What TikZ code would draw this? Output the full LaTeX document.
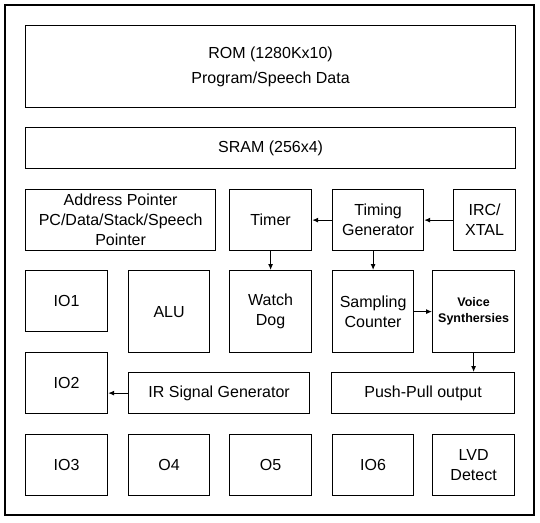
\documentclass[tikz,border=0pt]{standalone}
\usepackage{fontspec}
\setmainfont{Liberation Sans}
\usetikzlibrary{arrows.meta,positioning}
\tikzset{
    %Define standard arrow tip
    >={Latex[length=6pt,width=5pt]},
    %Define style for blocks
    blk/.style={
           rectangle,
           draw=black, line width=1.2pt,
           anchor=north west,
           minimum width=82pt,
           minimum height=61pt,
           inner sep=1pt,
           font=\fontsize{16}{20}\selectfont,
           align=center},
    bold/.style={
           font=\fontsize{12.5}{16}\selectfont\bfseries},
    % Define arrow style
    pil/.style={
           ->,
           line width=1pt}
}

\begin{document}
\begin{tikzpicture}[x=1pt,y=-1pt]
\useasboundingbox (0,0) rectangle (540,522);
\draw[line width=1.2pt] (5,5) rectangle (534,515);
% memories
\node[blk, minimum width=490pt, minimum height=82pt] (rom) at (25,25) {ROM (1280Kx10)\\[5pt]Program/Speech Data};
\node[blk, minimum width=490pt, minimum height=41pt] (sram) at (25,127) {SRAM (256x4)};
% row 1
\node[blk, minimum width=190pt] (addr) at (25,189) {Address Pointer\\PC/Data/Stack/Speech\\Pointer};
\node[blk] (timer) at (229,189) {Timer};
\node[blk, minimum width=91pt] (tgen) at (332,189) {Timing\\Generator};
\node[blk, minimum width=62pt] (irc) at (453,189) {IRC/\\XTAL};
% row 2
\node[blk] (io1) at (25,270) {IO1};
\node[blk, minimum width=81pt, minimum height=82pt] (alu) at (128,270) {ALU};
\node[blk, minimum height=82pt] (wdog) at (229,270) {Watch\\Dog};
\node[blk, minimum width=81pt, minimum height=82pt] (scount) at (332,270) {Sampling\\Counter};
\node[blk, minimum height=82pt, bold] (voice) at (432,270) {Voice\\Synthersies};
% row 3
\node[blk] (io2) at (25,352) {IO2};
\node[blk, minimum width=181pt, minimum height=41pt] (irgen) at (128,372) {IR Signal Generator};
\node[blk, minimum width=183pt, minimum height=41pt] (push) at (331,372) {Push-Pull output};
% row 4
\node[blk] (io3) at (25,434) {IO3};
\node[blk, minimum width=81pt] (o4) at (128,434) {O4};
\node[blk] (o5) at (229,434) {O5};
\node[blk, minimum width=81pt] (io6) at (332,434) {IO6};
\node[blk] (lvd) at (432,434) {LVD\\Detect};
% connections
\draw[pil] (irc) -- (tgen);
\draw[pil] (tgen) -- (timer);
\draw[pil] (timer) -- (wdog);
\draw[pil] (scount.north |- tgen.south) -- (scount.north);
\draw[pil] (scount) -- (voice);
\draw[pil] (voice.south) -- (voice.south |- push.north);
\draw[pil] (irgen) -- (irgen -| io2.east);
\end{tikzpicture}
\end{document}
